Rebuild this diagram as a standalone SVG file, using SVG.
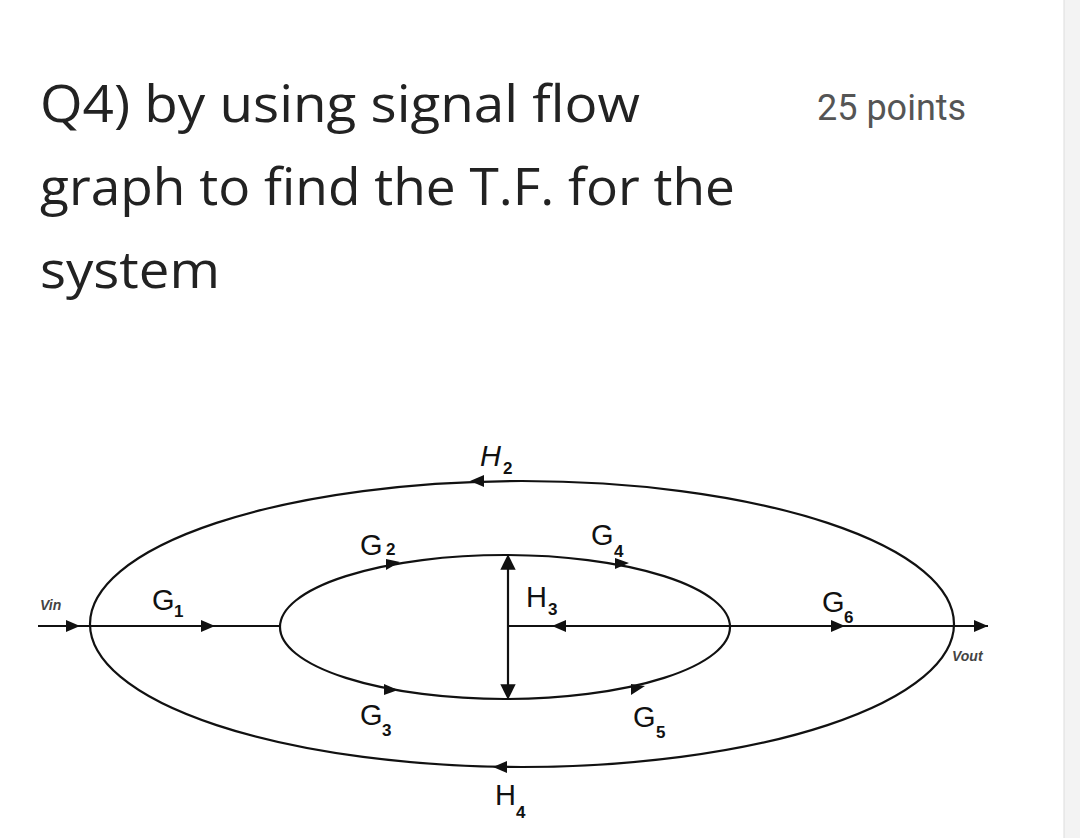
<svg xmlns="http://www.w3.org/2000/svg" width="1080" height="838" viewBox="0 0 1080 838">
<style>
.t{font-family:"Open Sans","Liberation Sans",sans-serif;fill:#222;font-size:52px}
.p{font-family:Roboto,"Liberation Sans",sans-serif;fill:#555;font-size:36px}
.l{font-family:"Liberation Sans",Arial,sans-serif;fill:#111;font-size:29px}
.s{font-family:"Liberation Sans",Arial,sans-serif;fill:#111;font-size:17px;font-weight:bold}
.e{fill:none;stroke:#111;stroke-width:2.2}
.a{fill:#111}
</style>
<defs><marker id="m" viewBox="0 0 10 10" refX="5" refY="5" markerWidth="7" markerHeight="7" orient="auto-start-reverse"><path d="M0,0L10,5L0,10z" fill="#111"/></marker></defs>
<rect width="1080" height="838" fill="#fff"/>
<rect x="1064" y="0" width="16" height="838" fill="#f3f3f3"/>
<line x1="1064" y1="0" x2="1064" y2="838" stroke="#ddd"/>
<g id="title">
<text class="t" x="40" y="122" textLength="600" lengthAdjust="spacingAndGlyphs">Q4) by using signal flow</text>
<text class="t" x="40" y="205" textLength="695" lengthAdjust="spacingAndGlyphs">graph to find the T.F. for the</text>
<text class="t" x="40" y="288" textLength="180" lengthAdjust="spacingAndGlyphs">system</text>
<text class="p" x="817" y="120">25 points</text>
</g>
<g id="connectors">
<ellipse class="e" cx="522" cy="624" rx="432" ry="143"/>
<ellipse class="e" cx="505" cy="627" rx="225" ry="72"/>
<line class="e" x1="38" y1="626" x2="280" y2="626"/>
<line class="e" x1="508" y1="626" x2="988" y2="626"/>
<line class="e" x1="508" y1="562" x2="508" y2="692" marker-start="url(#m)" marker-end="url(#m)"/>
<g class="a">
<path d="M80,626l-14,-6v12z"/>
<path d="M215,626l-14,-6v12z"/>
<path d="M988,626l-14,-6v12z"/>
<path d="M845,626l-14,-6v12z"/>
<path d="M552,626l14,-6v12z"/>
<path d="M470,481l14,-6v12z"/>
<path d="M493,767l14,-6v12z"/>
<path d="M400,562l-14,-3v11z"/>
<path d="M629,563l-14,-5v11z"/>
<path d="M398,690l-14,-6v11z"/>
<path d="M645,686l-14,-2v11z"/>
</g>
</g>
<g id="labels">
<text class="l" x="480" y="466" font-style="italic">H</text><text class="s" x="503" y="474">2</text>
<text class="l" x="360" y="555">G</text><text class="s" x="386" y="555" font-size="20">2</text>
<text class="l" x="152" y="610">G</text><text class="s" x="174" y="617">1</text>
<text class="l" x="591" y="545">G</text><text class="s" x="614" y="557">4</text>
<text class="l" x="526" y="607">H</text><text class="s" x="548" y="615">3</text>
<text class="l" x="822" y="612">G</text><text class="s" x="844" y="623">6</text>
<text class="l" x="360" y="725">G</text><text class="s" x="382" y="736">3</text>
<text class="l" x="633" y="727">G</text><text class="s" x="656" y="738">5</text>
<text class="l" x="495" y="805">H</text><text class="s" x="516" y="818">4</text>
<text x="40" y="610" font-family="Liberation Sans,sans-serif" font-size="14" font-weight="bold" font-style="italic" fill="#444">Vin</text>
<text x="952" y="661" font-family="Liberation Sans,sans-serif" font-size="14" font-weight="bold" font-style="italic" fill="#444">Vout</text>
</g>
</svg>
